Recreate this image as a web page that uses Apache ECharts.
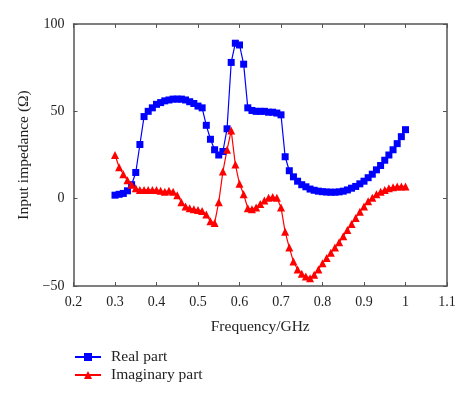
<!DOCTYPE html>
<html>
<head>
<meta charset="utf-8">
<script src="https://cdn.jsdelivr.net/npm/echarts@6/dist/echarts.min.js"></script>
<style>
  html, body { margin: 0; padding: 0; background: #fff; }
  #chart { width: 474px; height: 398px; }
</style>
</head>
<body>
<div id="chart"></div>
<script>
// frequency (GHz)
var freq = [0.30,0.31,0.32,0.33,0.34,0.35,0.36,0.37,0.38,0.39,
            0.40,0.41,0.42,0.43,0.44,0.45,0.46,0.47,0.48,0.49,
            0.50,0.51,0.52,0.53,0.54,0.55,0.56,0.57,0.58,0.59,
            0.60,0.61,0.62,0.63,0.64,0.65,0.66,0.67,0.68,0.69,
            0.70,0.71,0.72,0.73,0.74,0.75,0.76,0.77,0.78,0.79,
            0.80,0.81,0.82,0.83,0.84,0.85,0.86,0.87,0.88,0.89,
            0.90,0.91,0.92,0.93,0.94,0.95,0.96,0.97,0.98,0.99,1.00];
// real part
var realPart = [2,2.5,3,4.5,8,15,31,47,50,52,
                54,55,56,56.5,57,57,57,56.5,55.5,54.5,
                53,52,42,34,28,25,27,40,78,89,
                88,77,52,50.5,50,50,50,49.5,49.5,49,
                48,24,16,12.5,10,8,6.8,5.5,4.8,4.3,
                4,3.8,3.7,3.7,3.9,4.3,5,6,7,8.5,
                10,12,14,16.5,19,22,25,28,31.5,35.5,39.5];
// imaginary part
var imagPart = [25,18,14,10.5,8,6,5,5,5,5,
                5,4.5,4,4.5,4,2,-2,-4.5,-5.5,-6,
                -6.5,-7,-9,-13,-14,-2,15.5,28,39,19.5,
                8.5,2.5,-5.5,-6,-5,-3,-1,0.5,1,0.5,
                -5,-19,-28,-36,-40.5,-43,-44.5,-45.5,-43.5,-40.5,
                -37,-34,-31,-28,-25,-21.5,-18,-14.5,-11,-7.5,
                -4.5,-1.5,0.5,2.5,4,5,6,6.5,7,7,7];
var xTicks = [0.2, 1.1, 0.1];
var yTicks = [-50, 100, 50];

function pairs(xs, ys) {
    var out = [];
    for (var i = 0; i < xs.length; i++) out.push([xs[i], ys[i]]);
    return out;
}

var font = 'Liberation Serif';
var axisColor = '#555';
var textColor = '#222';
var chart = echarts.init(document.getElementById('chart'));
var option = {
    animation: false,
    textStyle: { fontFamily: font },
    grid: { left: 73.5, right: 27, top: 24, bottom: 112 },
    legend: {
        orient: 'vertical',
        left: 69,
        top: 344,
        itemWidth: 26,
        itemHeight: 10,
        itemGap: 2,
        textStyle: { fontFamily: font, fontSize: 15.5, color: textColor, padding: [0, 0, 0, 5] },
        data: ['Real part', 'Imaginary part']
    },
    xAxis: [
        {
            type: 'value', min: xTicks[0], max: xTicks[1], interval: xTicks[2],
            name: 'Frequency/GHz', nameLocation: 'middle', nameGap: 33,
            nameTextStyle: { fontFamily: font, fontSize: 15.5, color: textColor },
            axisLine: { onZero: false, lineStyle: { color: axisColor, width: 1.5 } },
            axisTick: { inside: true, length: 4, lineStyle: { color: axisColor } },
            axisLabel: { fontFamily: font, fontSize: 14, color: textColor, margin: 9,
                formatter: function (v) { return String(+v.toFixed(1)); } },
            splitLine: { show: false }
        },
        {
            type: 'value', position: 'top', min: xTicks[0], max: xTicks[1], interval: xTicks[2],
            axisLine: { onZero: false, lineStyle: { color: axisColor, width: 1.5 } },
            axisTick: { inside: true, length: 4, lineStyle: { color: axisColor } },
            axisLabel: { show: false },
            splitLine: { show: false }
        }
    ],
    yAxis: [
        {
            type: 'value', min: yTicks[0], max: yTicks[1], interval: yTicks[2],
            name: 'Input impedance (\u03a9)', nameLocation: 'middle', nameGap: 37,
            nameTextStyle: { fontFamily: font, fontSize: 15.5, color: textColor },
            axisLine: { show: true, onZero: false, lineStyle: { color: axisColor, width: 1.5 } },
            axisTick: { show: true, inside: true, length: 4, lineStyle: { color: axisColor } },
            axisLabel: { fontFamily: font, fontSize: 14, color: textColor, margin: 9,
                formatter: function (v) { return String(v).replace('-', '\u2212'); } },
            splitLine: { show: false }
        },
        {
            type: 'value', position: 'right', min: yTicks[0], max: yTicks[1], interval: yTicks[2],
            axisLine: { show: true, onZero: false, lineStyle: { color: axisColor, width: 1.5 } },
            axisTick: { show: true, inside: true, length: 4, lineStyle: { color: axisColor } },
            axisLabel: { show: false },
            splitLine: { show: false }
        }
    ],
    series: [
        {
            name: 'Real part', type: 'line',
            data: pairs(freq, realPart),
            symbol: 'rect', symbolSize: 7,
            lineStyle: { color: '#0000ff', width: 1.2 },
            itemStyle: { color: '#0000ff' }
        },
        {
            name: 'Imaginary part', type: 'line',
            data: pairs(freq, imagPart),
            symbol: 'triangle', symbolSize: 8,
            lineStyle: { color: '#ff0000', width: 1.2 },
            itemStyle: { color: '#ff0000' }
        }
    ]
};
chart.setOption(option);
</script>
</body>
</html>
